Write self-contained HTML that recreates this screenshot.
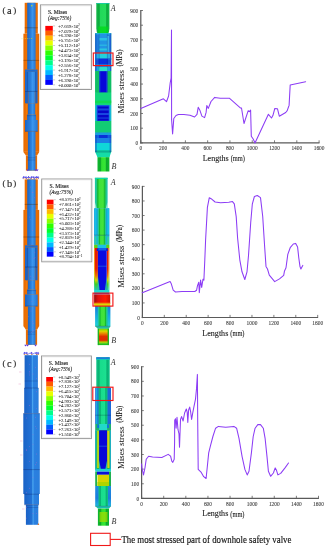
<!DOCTYPE html><html><head><meta charset="utf-8"><style>html,body{margin:0;padding:0;background:#fff;}svg{display:block;}text{font-family:'Liberation Serif', 'Times New Roman', serif;}</style></head><body>
<svg width="328" height="550" viewBox="0 0 328 550">
<rect width="328" height="550" fill="#fff"/>
<defs>
<linearGradient id="gblue" x1="0" x2="1" y1="0" y2="0">
 <stop offset="0" stop-color="#1C64C4"/><stop offset="0.45" stop-color="#2A80DE"/><stop offset="0.6" stop-color="#3C96EE"/><stop offset="1" stop-color="#2374D2"/>
</linearGradient>
<linearGradient id="gorange" x1="0" x2="1" y1="0" y2="0">
 <stop offset="0" stop-color="#E86A00"/><stop offset="0.5" stop-color="#F27A08"/><stop offset="1" stop-color="#E46800"/>
</linearGradient>
<linearGradient id="gcblue" x1="0" x2="1" y1="0" y2="0">
 <stop offset="0" stop-color="#1A62C6"/><stop offset="0.5" stop-color="#2272D6"/><stop offset="0.58" stop-color="#4AA6F0"/><stop offset="0.66" stop-color="#2A80E0"/><stop offset="1" stop-color="#2A7EDC"/>
</linearGradient>
<linearGradient id="ggreen" x1="0" x2="1" y1="0" y2="0">
 <stop offset="0" stop-color="#16B84A"/><stop offset="0.22" stop-color="#0AA83C"/><stop offset="0.3" stop-color="#22D85A"/><stop offset="0.7" stop-color="#26DC5C"/><stop offset="0.8" stop-color="#0AA83C"/><stop offset="1" stop-color="#18BE4E"/>
</linearGradient>
<linearGradient id="ggreen2" x1="0" x2="1" y1="0" y2="0">
 <stop offset="0" stop-color="#10B830"/><stop offset="0.25" stop-color="#0CAA2A"/><stop offset="0.35" stop-color="#30E030"/><stop offset="0.65" stop-color="#36E636"/><stop offset="0.75" stop-color="#0CAA2A"/><stop offset="1" stop-color="#10B830"/>
</linearGradient>
<linearGradient id="gspring" x1="0" x2="1" y1="0" y2="0">
 <stop offset="0" stop-color="#10C488"/><stop offset="0.2" stop-color="#08B070"/><stop offset="0.3" stop-color="#18DC8C"/><stop offset="0.7" stop-color="#1CE090"/><stop offset="0.8" stop-color="#08B070"/><stop offset="1" stop-color="#10C488"/>
</linearGradient>
<linearGradient id="gred" x1="0" x2="1" y1="0" y2="0">
 <stop offset="0" stop-color="#9A0A0A"/><stop offset="0.25" stop-color="#E01010"/><stop offset="0.7" stop-color="#FF1A00"/><stop offset="1" stop-color="#D01000"/>
</linearGradient>
</defs>
<rect x="24.70" y="2.80" width="13.10" height="30.90" fill="url(#gorange)" />
<rect x="23.40" y="33.70" width="15.80" height="118.20" fill="url(#gorange)" />
<polygon points="23.4,151.90 39.2,151.90 37.1,155.50 25.9,155.50" fill="url(#gorange)"/>
<rect x="25.90" y="155.50" width="11.20" height="15.10" fill="url(#gorange)" />
<rect x="27.20" y="2.80" width="8.40" height="66.70" fill="url(#gblue)" />
<rect x="25.00" y="69.50" width="12.60" height="2.40" fill="#1E6CD0" />
<rect x="25.10" y="71.90" width="12.30" height="31.40" fill="url(#gblue)" />
<rect x="25.10" y="71.90" width="2.40" height="19.50" fill="#1F68CA" />
<rect x="35.50" y="71.90" width="1.90" height="19.50" fill="#1F68CA" />
<line x1="27.50" y1="71.90" x2="27.50" y2="91.40" stroke="rgba(0,20,80,0.35)" stroke-width="0.5"/>
<line x1="35.50" y1="71.90" x2="35.50" y2="91.40" stroke="rgba(0,20,80,0.35)" stroke-width="0.5"/>
<rect x="25.20" y="91.40" width="3.10" height="11.90" fill="#1F62C0" />
<rect x="35.10" y="91.40" width="2.20" height="11.90" fill="#1F62C0" />
<line x1="28.30" y1="91.40" x2="28.30" y2="103.30" stroke="rgba(200,110,40,0.7)" stroke-width="0.5"/>
<line x1="35.10" y1="91.40" x2="35.10" y2="103.30" stroke="rgba(200,110,40,0.7)" stroke-width="0.5"/>
<polygon points="25.1,103.30 28.0,104.80 28.0,114.50 25.1,114.50" fill="url(#gorange)"/>
<polygon points="37.4,103.30 35.1,104.80 35.1,114.50 37.4,114.50" fill="url(#gorange)"/>
<rect x="27.90" y="103.30" width="7.30" height="11.20" fill="url(#gblue)" />
<rect x="27.10" y="114.50" width="8.80" height="5.50" fill="url(#gblue)" />
<line x1="27.10" y1="115.70" x2="35.90" y2="115.70" stroke="rgba(0,0,60,0.35)" stroke-width="0.5"/>
<rect x="25.00" y="120.00" width="12.70" height="11.60" fill="url(#gblue)" />
<line x1="25.00" y1="131.30" x2="37.70" y2="131.30" stroke="rgba(0,0,60,0.35)" stroke-width="0.6"/>
<rect x="27.90" y="131.60" width="7.60" height="39.00" fill="url(#gblue)" />
<line x1="24.70" y1="27.80" x2="37.80" y2="27.80" stroke="rgba(60,30,0,0.55)" stroke-width="0.6"/>
<line x1="23.40" y1="60.40" x2="39.20" y2="60.40" stroke="rgba(60,30,0,0.5)" stroke-width="0.6"/>
<line x1="25.10" y1="91.40" x2="37.40" y2="91.40" stroke="rgba(0,0,60,0.45)" stroke-width="0.6"/>
<line x1="27.40" y1="157.80" x2="35.30" y2="157.80" stroke="rgba(0,0,60,0.3)" stroke-width="0.5"/>
<line x1="27.40" y1="160.00" x2="35.30" y2="160.00" stroke="rgba(0,0,60,0.3)" stroke-width="0.5"/>
<rect x="24.70" y="179.40" width="13.10" height="30.50" fill="url(#gorange)" />
<rect x="23.40" y="209.90" width="15.80" height="116.20" fill="url(#gorange)" />
<polygon points="23.4,326.10 39.2,326.10 37.1,329.70 25.9,329.70" fill="url(#gorange)"/>
<rect x="25.90" y="329.70" width="11.20" height="15.10" fill="url(#gorange)" />
<rect x="27.20" y="179.40" width="8.40" height="65.90" fill="url(#gblue)" />
<rect x="25.00" y="245.30" width="12.60" height="2.40" fill="#1E6CD0" />
<rect x="25.10" y="247.70" width="12.30" height="32.50" fill="url(#gblue)" />
<rect x="25.10" y="247.70" width="2.40" height="19.30" fill="#1F68CA" />
<rect x="35.50" y="247.70" width="1.90" height="19.30" fill="#1F68CA" />
<line x1="27.50" y1="247.70" x2="27.50" y2="267.00" stroke="rgba(0,20,80,0.35)" stroke-width="0.5"/>
<line x1="35.50" y1="247.70" x2="35.50" y2="267.00" stroke="rgba(0,20,80,0.35)" stroke-width="0.5"/>
<rect x="25.20" y="267.00" width="3.10" height="13.20" fill="#1F62C0" />
<rect x="35.10" y="267.00" width="2.20" height="13.20" fill="#1F62C0" />
<line x1="28.30" y1="267.00" x2="28.30" y2="280.20" stroke="rgba(200,110,40,0.7)" stroke-width="0.5"/>
<line x1="35.10" y1="267.00" x2="35.10" y2="280.20" stroke="rgba(200,110,40,0.7)" stroke-width="0.5"/>
<polygon points="25.1,280.20 28.0,281.70 28.0,289.40 25.1,289.40" fill="url(#gorange)"/>
<polygon points="37.4,280.20 35.1,281.70 35.1,289.40 37.4,289.40" fill="url(#gorange)"/>
<rect x="27.90" y="280.20" width="7.30" height="9.20" fill="url(#gblue)" />
<rect x="27.10" y="289.40" width="8.80" height="5.10" fill="url(#gblue)" />
<line x1="27.10" y1="290.60" x2="35.90" y2="290.60" stroke="rgba(0,0,60,0.35)" stroke-width="0.5"/>
<rect x="25.00" y="294.50" width="12.70" height="11.90" fill="url(#gblue)" />
<line x1="25.00" y1="306.10" x2="37.70" y2="306.10" stroke="rgba(0,0,60,0.35)" stroke-width="0.6"/>
<rect x="27.90" y="306.40" width="7.60" height="38.40" fill="url(#gblue)" />
<line x1="24.70" y1="204.40" x2="37.80" y2="204.40" stroke="rgba(60,30,0,0.55)" stroke-width="0.6"/>
<line x1="23.40" y1="237.00" x2="39.20" y2="237.00" stroke="rgba(60,30,0,0.5)" stroke-width="0.6"/>
<line x1="25.10" y1="267.00" x2="37.40" y2="267.00" stroke="rgba(0,0,60,0.45)" stroke-width="0.6"/>
<line x1="27.40" y1="332.00" x2="35.30" y2="332.00" stroke="rgba(0,0,60,0.3)" stroke-width="0.5"/>
<line x1="27.40" y1="334.20" x2="35.30" y2="334.20" stroke="rgba(0,0,60,0.3)" stroke-width="0.5"/>
<polygon points="22.30,177.80 23.60,176.00 24.90,177.80" fill="#4A3CE8"/>
<circle cx="23.80" cy="178.60" r="0.55" fill="#F08020"/>
<polygon points="24.70,177.80 26.00,176.00 27.30,177.80" fill="#4A3CE8"/>
<circle cx="26.20" cy="178.60" r="0.55" fill="#F08020"/>
<polygon points="27.30,177.80 28.60,176.00 29.90,177.80" fill="#4A3CE8"/>
<circle cx="28.80" cy="178.60" r="0.55" fill="#F08020"/>
<polygon points="30.10,177.80 31.40,176.00 32.70,177.80" fill="#4A3CE8"/>
<circle cx="31.60" cy="178.60" r="0.55" fill="#F08020"/>
<polygon points="32.50,177.80 33.80,176.00 35.10,177.80" fill="#4A3CE8"/>
<circle cx="34.00" cy="178.60" r="0.55" fill="#F08020"/>
<polygon points="34.90,177.80 36.20,176.00 37.50,177.80" fill="#4A3CE8"/>
<circle cx="36.40" cy="178.60" r="0.55" fill="#F08020"/>
<polygon points="36.70,177.80 38.00,176.00 39.30,177.80" fill="#4A3CE8"/>
<circle cx="38.20" cy="178.60" r="0.55" fill="#F08020"/>
<polyline points="22.6,178.4 24.5,177.0 26.5,178.6 28.5,176.8 30.5,178.5 32.5,176.9 34.5,178.6 36.5,177.0 38.6,178.3" fill="none" stroke="#3C3CE0" stroke-width="0.7"/>
<polygon points="26.40,169.60 27.60,171.20 29.00,169.60" fill="#5A34E0"/>
<polygon points="34.60,169.60 35.80,171.20 37.20,169.60" fill="#5A34E0"/>
<polygon points="36.00,169.60 37.20,171.20 38.60,169.60" fill="#5A34E0"/>
<polygon points="23.20,353.60 24.50,351.80 25.80,353.60" fill="#4A3CE8"/>
<circle cx="24.70" cy="354.40" r="0.55" fill="#F08020"/>
<polygon points="25.50,353.60 26.80,351.80 28.10,353.60" fill="#4A3CE8"/>
<circle cx="27.00" cy="354.40" r="0.55" fill="#F08020"/>
<polygon points="30.30,353.60 31.60,351.80 32.90,353.60" fill="#4A3CE8"/>
<circle cx="31.80" cy="354.40" r="0.55" fill="#F08020"/>
<polygon points="34.90,353.60 36.20,351.80 37.50,353.60" fill="#4A3CE8"/>
<circle cx="36.40" cy="354.40" r="0.55" fill="#F08020"/>
<polygon points="36.70,353.60 38.00,351.80 39.30,353.60" fill="#4A3CE8"/>
<circle cx="38.20" cy="354.40" r="0.55" fill="#F08020"/>
<polyline points="23.6,354.2 25.6,352.8 27.6,354.4 30.2,353.0 32.6,354.2 35.0,352.8 37.2,354.3 39.0,353.4" fill="none" stroke="#3C3CE0" stroke-width="0.6"/>
<polygon points="24.30,344.80 25.50,346.40 26.90,344.80" fill="#5A34E0"/>
<polygon points="26.30,344.80 27.50,346.40 28.90,344.80" fill="#5A34E0"/>
<polygon points="34.30,344.80 35.50,346.40 36.90,344.80" fill="#5A34E0"/>
<circle cx="30.05" cy="269.62" r="0.45" fill="#B060C8" opacity="0.8"/>
<circle cx="30.90" cy="279.23" r="0.45" fill="#B060C8" opacity="0.8"/>
<circle cx="32.57" cy="192.55" r="0.45" fill="#B060C8" opacity="0.8"/>
<circle cx="28.59" cy="316.83" r="0.45" fill="#B060C8" opacity="0.8"/>
<circle cx="30.19" cy="219.73" r="0.45" fill="#B060C8" opacity="0.8"/>
<circle cx="34.97" cy="257.71" r="0.45" fill="#B060C8" opacity="0.8"/>
<circle cx="33.94" cy="258.69" r="0.45" fill="#B060C8" opacity="0.8"/>
<circle cx="32.65" cy="206.25" r="0.45" fill="#B060C8" opacity="0.8"/>
<circle cx="32.63" cy="321.76" r="0.45" fill="#B060C8" opacity="0.8"/>
<circle cx="31.90" cy="301.34" r="0.45" fill="#B060C8" opacity="0.8"/>
<circle cx="32.86" cy="192.31" r="0.45" fill="#B060C8" opacity="0.8"/>
<circle cx="33.43" cy="277.17" r="0.45" fill="#B060C8" opacity="0.8"/>
<circle cx="30.46" cy="186.99" r="0.45" fill="#B060C8" opacity="0.8"/>
<circle cx="34.13" cy="258.11" r="0.45" fill="#B060C8" opacity="0.8"/>
<circle cx="33.17" cy="323.49" r="0.45" fill="#B060C8" opacity="0.8"/>
<circle cx="33.14" cy="330.30" r="0.45" fill="#B060C8" opacity="0.8"/>
<circle cx="31.07" cy="310.95" r="0.45" fill="#B060C8" opacity="0.8"/>
<circle cx="31.39" cy="332.63" r="0.45" fill="#B060C8" opacity="0.8"/>
<circle cx="34.21" cy="197.69" r="0.45" fill="#B060C8" opacity="0.8"/>
<circle cx="29.38" cy="216.93" r="0.45" fill="#B060C8" opacity="0.8"/>
<circle cx="34.78" cy="252.22" r="0.45" fill="#B060C8" opacity="0.8"/>
<circle cx="32.57" cy="230.47" r="0.45" fill="#B060C8" opacity="0.8"/>
<circle cx="31.80" cy="244.12" r="0.45" fill="#B060C8" opacity="0.8"/>
<circle cx="30.78" cy="276.20" r="0.45" fill="#B060C8" opacity="0.8"/>
<circle cx="32.30" cy="327.58" r="0.45" fill="#B060C8" opacity="0.8"/>
<circle cx="32.93" cy="331.56" r="0.45" fill="#B060C8" opacity="0.8"/>
<rect x="24.60" y="355.20" width="13.30" height="32.80" fill="url(#gcblue)" />
<rect x="24.20" y="388.00" width="14.40" height="25.40" fill="url(#gcblue)" />
<rect x="23.30" y="413.40" width="16.50" height="80.60" fill="url(#gcblue)" />
<rect x="24.30" y="494.00" width="14.70" height="10.60" fill="url(#gcblue)" />
<rect x="25.90" y="504.60" width="12.40" height="20.20" fill="url(#gcblue)" />
<line x1="24.60" y1="381.00" x2="37.90" y2="381.00" stroke="rgba(0,0,60,0.3)" stroke-width="0.5"/>
<line x1="24.20" y1="388.00" x2="38.60" y2="388.00" stroke="rgba(0,0,60,0.4)" stroke-width="0.6"/>
<line x1="23.30" y1="413.60" x2="39.80" y2="413.60" stroke="rgba(0,0,60,0.45)" stroke-width="0.6"/>
<line x1="23.30" y1="469.60" x2="39.80" y2="469.60" stroke="rgba(0,0,60,0.4)" stroke-width="0.6"/>
<line x1="24.30" y1="494.20" x2="39.00" y2="494.20" stroke="rgba(0,0,60,0.4)" stroke-width="0.6"/>
<line x1="24.30" y1="504.80" x2="39.00" y2="504.80" stroke="rgba(0,0,60,0.45)" stroke-width="0.7"/>
<line x1="25.90" y1="507.50" x2="38.30" y2="507.50" stroke="rgba(0,0,60,0.3)" stroke-width="0.5"/>
<circle cx="33.00" cy="513.45" r="0.45" fill="#C060C8" opacity="0.8"/>
<circle cx="35.50" cy="464.75" r="0.45" fill="#C060C8" opacity="0.8"/>
<circle cx="26.50" cy="492.69" r="0.45" fill="#C060C8" opacity="0.8"/>
<circle cx="26.50" cy="417.97" r="0.45" fill="#C060C8" opacity="0.8"/>
<circle cx="26.50" cy="507.19" r="0.45" fill="#C060C8" opacity="0.8"/>
<circle cx="29.50" cy="364.15" r="0.45" fill="#C060C8" opacity="0.8"/>
<circle cx="35.50" cy="426.58" r="0.45" fill="#C060C8" opacity="0.8"/>
<circle cx="29.50" cy="372.88" r="0.45" fill="#C060C8" opacity="0.8"/>
<circle cx="35.50" cy="367.69" r="0.45" fill="#C060C8" opacity="0.8"/>
<circle cx="36.50" cy="378.30" r="0.45" fill="#C060C8" opacity="0.8"/>
<circle cx="29.50" cy="461.42" r="0.45" fill="#C060C8" opacity="0.8"/>
<circle cx="36.50" cy="513.42" r="0.45" fill="#C060C8" opacity="0.8"/>
<circle cx="36.50" cy="454.03" r="0.45" fill="#C060C8" opacity="0.8"/>
<circle cx="26.50" cy="518.11" r="0.45" fill="#C060C8" opacity="0.8"/>
<circle cx="26.50" cy="449.29" r="0.45" fill="#C060C8" opacity="0.8"/>
<circle cx="29.50" cy="405.50" r="0.45" fill="#C060C8" opacity="0.8"/>
<circle cx="29.50" cy="446.67" r="0.45" fill="#C060C8" opacity="0.8"/>
<circle cx="36.50" cy="408.59" r="0.45" fill="#C060C8" opacity="0.8"/>
<circle cx="29.50" cy="374.90" r="0.45" fill="#C060C8" opacity="0.8"/>
<circle cx="36.50" cy="462.78" r="0.45" fill="#C060C8" opacity="0.8"/>
<circle cx="33.00" cy="373.98" r="0.45" fill="#C060C8" opacity="0.8"/>
<circle cx="26.50" cy="450.56" r="0.45" fill="#C060C8" opacity="0.8"/>
<circle cx="36.50" cy="391.78" r="0.45" fill="#C060C8" opacity="0.8"/>
<circle cx="36.50" cy="428.13" r="0.45" fill="#C060C8" opacity="0.8"/>
<circle cx="33.00" cy="434.36" r="0.45" fill="#C060C8" opacity="0.8"/>
<circle cx="35.50" cy="417.30" r="0.45" fill="#C060C8" opacity="0.8"/>
<circle cx="29.50" cy="488.28" r="0.45" fill="#C060C8" opacity="0.8"/>
<circle cx="29.50" cy="371.42" r="0.45" fill="#C060C8" opacity="0.8"/>
<circle cx="33.00" cy="444.13" r="0.45" fill="#C060C8" opacity="0.8"/>
<circle cx="33.00" cy="477.63" r="0.45" fill="#C060C8" opacity="0.8"/>
<line x1="19" y1="372" x2="21.5" y2="372" stroke="#E8A0C8" stroke-width="0.5"/>
<line x1="18.5" y1="384" x2="21.0" y2="384" stroke="#E8A0C8" stroke-width="0.5"/>
<line x1="20" y1="441" x2="22.5" y2="441" stroke="#E8A0C8" stroke-width="0.5"/>
<line x1="20" y1="455" x2="22.5" y2="455" stroke="#E8A0C8" stroke-width="0.5"/>
<line x1="22" y1="509" x2="24.5" y2="509" stroke="#E8A0C8" stroke-width="0.5"/>
<circle cx="38.4" cy="524.3" r="0.8" fill="#E07020"/>
<path d="M96.3,3 L109.4,3 L109.4,28.5 Q109.2,32 108.2,33.5 L97.5,33.5 Q96.5,32 96.3,28.5 Z" fill="url(#ggreen)"/>
<rect x="96.30" y="3.00" width="13.10" height="0.80" fill="#18C8B0" />
<path d="M98.2,26.5 L108.0,26.5 L108.0,33.4 L98.2,33.4 Z" fill="#00DA1A" opacity="0.8"/>
<rect x="95.20" y="33.30" width="16.00" height="118.70" fill="#1FC07C" />
<rect x="95.20" y="33.30" width="16.00" height="37.80" fill="#1F7EDC" />
<rect x="95.20" y="33.30" width="16.00" height="1.00" fill="#22C8DC" />
<rect x="99.20" y="34.30" width="8.10" height="18.70" fill="#2294E4" />
<rect x="99.20" y="38.00" width="8.10" height="2.50" fill="#2AC0E4" />
<rect x="99.20" y="44.50" width="8.10" height="1.50" fill="#28B4E4" />
<rect x="99.20" y="48.50" width="8.10" height="2.00" fill="#2AC8E0" />
<rect x="107.30" y="36.00" width="1.70" height="16.00" fill="#3AAEE8" />
<rect x="99.20" y="53.00" width="8.10" height="5.00" fill="#22D2DC" />
<rect x="96.50" y="53.00" width="2.70" height="5.00" fill="#2AB0E0" />
<rect x="107.30" y="53.00" width="2.70" height="5.00" fill="#2AB0E0" />
<rect x="95.20" y="58.00" width="16.00" height="2.00" fill="#1A78D8" />
<rect x="95.60" y="59.50" width="15.20" height="5.00" fill="#1450D8" />
<rect x="98.50" y="59.00" width="9.50" height="5.50" fill="#0A30DC" />
<rect x="95.20" y="64.50" width="16.00" height="2.50" fill="#1C84DC" />
<rect x="99.20" y="67.00" width="8.10" height="4.10" fill="#28DAD0" />
<rect x="96.50" y="67.00" width="2.70" height="4.10" fill="#1AA8E0" />
<rect x="107.30" y="67.00" width="2.70" height="4.10" fill="#1AA8E0" />
<rect x="95.20" y="33.30" width="1.20" height="37.80" fill="rgba(20,60,190,0.45)" />
<rect x="110.00" y="33.30" width="1.20" height="37.80" fill="rgba(20,60,190,0.45)" />
<line x1="99.20" y1="33.30" x2="99.20" y2="152.00" stroke="rgba(0,40,90,0.35)" stroke-width="0.5"/>
<line x1="107.30" y1="33.30" x2="107.30" y2="152.00" stroke="rgba(0,40,90,0.35)" stroke-width="0.5"/>
<rect x="95.20" y="71.10" width="16.00" height="21.50" fill="#10BE64" />
<rect x="99.40" y="71.10" width="7.90" height="21.50" fill="#0808D8" />
<rect x="99.40" y="71.10" width="0.90" height="21.50" fill="#1A50D8" />
<rect x="106.40" y="71.10" width="0.90" height="21.50" fill="#1A50D8" />
<rect x="99.40" y="67.50" width="7.90" height="3.60" fill="#2EE0C8" />
<rect x="95.20" y="92.60" width="16.00" height="12.60" fill="#12D67C" />
<rect x="95.20" y="100.60" width="16.00" height="2.60" fill="#10DA50" />
<rect x="95.20" y="105.20" width="16.00" height="15.80" fill="#14B8D8" />
<rect x="96.70" y="105.20" width="12.70" height="15.80" fill="#1846E0" />
<rect x="97.80" y="106.50" width="10.80" height="2.00" fill="#0606C8" />
<rect x="97.80" y="110.50" width="10.80" height="2.50" fill="#0606C8" />
<rect x="97.80" y="115.00" width="10.80" height="2.50" fill="#0606C8" />
<rect x="97.80" y="118.60" width="10.80" height="2.00" fill="#0606C8" />
<rect x="95.20" y="121.00" width="16.00" height="11.50" fill="#12CC74" />
<rect x="95.20" y="132.50" width="16.00" height="2.50" fill="#1A9AE0" />
<rect x="95.20" y="135.00" width="16.00" height="3.00" fill="#1060E0" />
<rect x="99.00" y="135.00" width="8.60" height="3.00" fill="#0A30D8" />
<rect x="95.20" y="138.00" width="16.00" height="5.00" fill="#1A80E4" />
<rect x="95.20" y="143.00" width="16.00" height="7.00" fill="#10D6D8" />
<rect x="95.20" y="150.00" width="16.00" height="2.00" fill="#0CC8A0" />
<rect x="95.20" y="135.00" width="1.60" height="17.00" fill="rgba(20,60,200,0.5)" />
<rect x="109.60" y="135.00" width="1.60" height="17.00" fill="rgba(20,60,200,0.5)" />
<polygon points="95.2,152 111.2,152 109.4,157.2 97.5,157.2" fill="#12D8B0"/>
<rect x="97.50" y="152.00" width="11.90" height="5.20" fill="#14DCA8" />
<rect x="97.50" y="157.20" width="11.90" height="14.30" fill="url(#ggreen2)" />
<line x1="95.20" y1="152.00" x2="111.20" y2="152.00" stroke="rgba(0,40,60,0.5)" stroke-width="0.6"/>
<rect x="93.3" y="53.0" width="19.7" height="12.6" fill="none" stroke="#F41616" stroke-width="1.15"/>
<defs>
<linearGradient id="gbtop" x1="0" x2="1" y1="0" y2="0">
 <stop offset="0" stop-color="#18C8A8"/><stop offset="0.12" stop-color="#22C890"/><stop offset="0.22" stop-color="#14B830"/><stop offset="0.35" stop-color="#3EE23A"/><stop offset="0.65" stop-color="#44E43C"/><stop offset="0.78" stop-color="#14B830"/><stop offset="0.88" stop-color="#22C890"/><stop offset="1" stop-color="#18C0B0"/>
</linearGradient>
<linearGradient id="gbside" x1="0" x2="0" y1="0" y2="1">
 <stop offset="0" stop-color="#E81800"/><stop offset="0.5" stop-color="#E82000"/><stop offset="0.66" stop-color="#F07000"/><stop offset="0.76" stop-color="#D8D000"/><stop offset="0.86" stop-color="#40D020"/><stop offset="1" stop-color="#20C8B0"/>
</linearGradient>
<linearGradient id="gbside2" x1="0" x2="0" y1="0" y2="1">
 <stop offset="0" stop-color="#F07800"/><stop offset="0.5" stop-color="#F09000"/><stop offset="0.66" stop-color="#D8D000"/><stop offset="0.8" stop-color="#40D020"/><stop offset="1" stop-color="#20C8C0"/>
</linearGradient>
<linearGradient id="gbnar" x1="0" x2="0" y1="0" y2="1">
 <stop offset="0" stop-color="#70D800"/><stop offset="0.15" stop-color="#D8D800"/><stop offset="0.3" stop-color="#E88A00"/><stop offset="0.5" stop-color="#E03000"/><stop offset="0.75" stop-color="#E02800"/><stop offset="0.88" stop-color="#B0D800"/><stop offset="1" stop-color="#30C830"/>
</linearGradient>
<linearGradient id="gbmid" x1="0" x2="0" y1="0" y2="1">
 <stop offset="0" stop-color="#1878DC"/><stop offset="0.5" stop-color="#18A8E0"/><stop offset="1" stop-color="#20D0D8"/>
</linearGradient>
</defs>
<rect x="94.90" y="177.80" width="12.70" height="30.50" fill="url(#gbtop)" />
<rect x="94.90" y="177.80" width="12.70" height="1.20" fill="#10D8A8" />
<path d="M94.9,202 Q96.2,206 96.6,208.3 L94.9,208.3 Z M107.6,202 Q106.3,206 105.9,208.3 L107.6,208.3 Z" fill="#fff" opacity="0.5"/>
<rect x="94.10" y="208.30" width="15.30" height="26.90" fill="#1898E0" />
<rect x="94.60" y="208.30" width="1.90" height="26.90" fill="#18C0E4" />
<rect x="107.20" y="208.30" width="1.80" height="26.90" fill="#18C0E4" />
<rect x="97.50" y="208.30" width="8.80" height="26.90" fill="url(#gbtop)" />
<rect x="94.10" y="235.20" width="15.30" height="9.60" fill="#18B0E0" />
<rect x="94.60" y="236.50" width="1.70" height="8.30" fill="#30D0A0" />
<rect x="107.20" y="236.50" width="1.80" height="8.30" fill="#30D0A0" />
<rect x="97.50" y="235.20" width="8.80" height="9.60" fill="url(#gbtop)" />
<line x1="94.10" y1="235.20" x2="109.40" y2="235.20" stroke="rgba(0,40,60,0.5)" stroke-width="0.6"/>
<rect x="94.10" y="244.80" width="15.30" height="3.20" fill="#60D010" />
<rect x="97.50" y="244.80" width="8.80" height="3.20" fill="#18C0E8" />
<rect x="94.10" y="248.00" width="0.90" height="42.00" fill="url(#gbside2)" />
<rect x="108.50" y="248.00" width="0.90" height="42.00" fill="url(#gbside2)" />
<rect x="95.00" y="248.00" width="2.90" height="42.00" fill="url(#gbside)" />
<rect x="106.70" y="248.00" width="1.80" height="42.00" fill="url(#gbside)" />
<rect x="97.90" y="248.00" width="8.80" height="42.00" fill="#0A0AE0" />
<rect x="97.90" y="248.00" width="8.80" height="2.50" fill="#1060E8" />
<rect x="96.80" y="248.50" width="1.60" height="2.50" fill="#1020D0" />
<rect x="106.20" y="248.50" width="1.60" height="2.50" fill="#1020D0" />
<polygon points="97.9,276 99.6,290 97.9,290" fill="#20C8A0"/>
<polygon points="106.7,276 105.0,290 106.7,290" fill="#20C8A0"/>
<line x1="97.90" y1="266.20" x2="106.70" y2="266.20" stroke="rgba(60,200,220,0.6)" stroke-width="0.6"/>
<rect x="94.10" y="290.00" width="15.30" height="3.00" fill="#20D8D0" />
<rect x="94.10" y="293.00" width="15.30" height="1.40" fill="#2040D0" />
<rect x="94.10" y="294.40" width="16.10" height="9.20" fill="url(#gred)" />
<rect x="94.10" y="302.60" width="16.10" height="1.20" fill="#F07000" />
<rect x="94.10" y="303.60" width="16.10" height="2.40" fill="#D8D800" />
<rect x="95.10" y="306.00" width="15.30" height="20.30" fill="url(#gbmid)" />
<rect x="97.80" y="306.00" width="10.00" height="20.30" fill="url(#gbtop)" />
<polygon points="95.1,326.3 110.4,326.3 108.8,328.7 97.8,328.7" fill="#20C0A0"/>
<line x1="95.10" y1="326.30" x2="110.40" y2="326.30" stroke="rgba(0,40,60,0.5)" stroke-width="0.6"/>
<rect x="97.80" y="328.70" width="11.00" height="16.40" fill="#20C020" />
<rect x="98.80" y="328.90" width="9.00" height="15.10" fill="url(#gbnar)" />
<rect x="97.80" y="328.70" width="1.00" height="16.40" fill="#18B020" />
<rect x="107.80" y="328.70" width="1.00" height="16.40" fill="#18B020" />
<rect x="93.0" y="293.1" width="19.9" height="13.0" fill="none" stroke="#F41616" stroke-width="1.15"/>
<defs>
<linearGradient id="gcside" x1="0" x2="0" y1="0" y2="1">
 <stop offset="0" stop-color="#1C8CE0"/><stop offset="0.6" stop-color="#1C7CDC"/><stop offset="1" stop-color="#20B8E0"/>
</linearGradient>
</defs>
<rect x="96.30" y="357.20" width="13.40" height="30.60" fill="url(#gspring)" />
<rect x="96.30" y="357.20" width="13.40" height="1.80" fill="#1A80D8" />
<rect x="96.30" y="359.00" width="13.40" height="0.80" fill="#10C8C0" />
<rect x="95.20" y="387.80" width="15.80" height="36.20" fill="#1C68D8" />
<rect x="96.00" y="387.80" width="1.40" height="36.20" fill="#18B0DC" />
<rect x="98.50" y="387.80" width="9.00" height="36.20" fill="url(#gspring)" />
<line x1="95.20" y1="415.20" x2="111.00" y2="415.20" stroke="rgba(0,40,60,0.45)" stroke-width="0.6"/>
<rect x="95.20" y="424.00" width="15.80" height="6.30" fill="#20B070" />
<rect x="99.10" y="424.00" width="8.00" height="6.30" fill="#22D8C8" />
<rect x="97.20" y="424.50" width="1.90" height="3.50" fill="#1070E0" />
<rect x="107.10" y="424.50" width="1.90" height="3.50" fill="#1070E0" />
<rect x="95.20" y="430.30" width="15.80" height="39.70" fill="#18C030" />
<rect x="95.20" y="430.30" width="1.40" height="39.70" fill="#20B0C0" />
<rect x="109.60" y="430.30" width="1.40" height="39.70" fill="#20B0C0" />
<rect x="97.00" y="431.00" width="2.10" height="37.00" fill="#A8D418" />
<rect x="107.10" y="431.00" width="2.30" height="37.00" fill="#D4D410" />
<rect x="99.10" y="430.30" width="8.00" height="39.70" fill="#0808D8" />
<polygon points="99.1,460 100.8,469 99.1,469" fill="#20C8A0"/>
<polygon points="107.1,460 105.4,469 107.1,469" fill="#20C8A0"/>
<line x1="99.10" y1="446.20" x2="107.10" y2="446.20" stroke="rgba(60,200,220,0.6)" stroke-width="0.6"/>
<rect x="95.20" y="468.80" width="15.80" height="2.90" fill="#20D0D0" />
<rect x="95.20" y="471.70" width="1.80" height="14.30" fill="#20B050" />
<rect x="109.00" y="471.70" width="2.00" height="14.30" fill="#20B050" />
<rect x="97.00" y="471.70" width="12.00" height="3.10" fill="#0A10D8" />
<rect x="97.50" y="474.80" width="11.50" height="11.20" fill="#D8D400" />
<rect x="97.50" y="482.00" width="11.50" height="4.00" fill="#B0D400" />
<rect x="95.20" y="486.00" width="15.80" height="20.30" fill="url(#gcside)" />
<rect x="98.50" y="486.00" width="9.50" height="20.30" fill="url(#gspring)" />
<polygon points="95.2,506.3 111.0,506.3 109.0,508.6 97.9,508.6" fill="#12C0B0"/>
<line x1="95.20" y1="506.30" x2="111.00" y2="506.30" stroke="rgba(0,40,60,0.45)" stroke-width="0.6"/>
<rect x="97.90" y="508.60" width="11.10" height="17.10" fill="url(#ggreen2)" />
<rect x="99.50" y="512.00" width="8.00" height="10.00" fill="#A0DC00" opacity="0.75"/>
<rect x="92.8" y="387.2" width="20.2" height="13.3" fill="none" stroke="#F41616" stroke-width="1.15"/>
<rect x="40.40" y="4.90" width="51.10" height="84.60" fill="#fff" stroke="#979797" stroke-width="0.95"/>
<rect x="41.40" y="5.90" width="49.10" height="82.60" fill="none" stroke="#e6e6e6" stroke-width="0.6"/>
<text x="47.90" y="14.20" font-size="5.6" fill="#1a1a1a" stroke="#1a1a1a" stroke-width="0.12">S. Mises</text>
<text x="47.90" y="20.30" font-size="5.4" font-style="italic" fill="#1a1a1a" stroke="#1a1a1a" stroke-width="0.1">(Avg:75%)</text>
<rect x="45.30" y="25.90" width="7.50" height="4.96" fill="#FF0000" />
<rect x="45.30" y="30.81" width="7.50" height="4.96" fill="#FF5D00" />
<rect x="45.30" y="35.72" width="7.50" height="4.96" fill="#FFB900" />
<rect x="45.30" y="40.62" width="7.50" height="4.96" fill="#E8FF00" />
<rect x="45.30" y="45.53" width="7.50" height="4.96" fill="#8BFF00" />
<rect x="45.30" y="50.44" width="7.50" height="4.96" fill="#2EFF00" />
<rect x="45.30" y="55.35" width="7.50" height="4.96" fill="#00FF2E" />
<rect x="45.30" y="60.26" width="7.50" height="4.96" fill="#00FF8B" />
<rect x="45.30" y="65.17" width="7.50" height="4.96" fill="#00FFE8" />
<rect x="45.30" y="70.07" width="7.50" height="4.96" fill="#00B9FF" />
<rect x="45.30" y="74.98" width="7.50" height="4.96" fill="#005DFF" />
<rect x="45.30" y="79.89" width="7.50" height="4.96" fill="#0000FF" />
<line x1="53.10" y1="25.90" x2="55.10" y2="25.90" stroke="#999" stroke-width="0.5"/>
<text x="58.20" y="27.60" font-size="4.6" fill="#222" stroke="#222" stroke-width="0.04">+7.669&#215;10<tspan dy="-1.6" font-size="3">2</tspan></text>
<line x1="53.10" y1="30.81" x2="55.10" y2="30.81" stroke="#999" stroke-width="0.5"/>
<text x="58.20" y="32.51" font-size="4.6" fill="#222" stroke="#222" stroke-width="0.04">+7.029&#215;10<tspan dy="-1.6" font-size="3">2</tspan></text>
<line x1="53.10" y1="35.72" x2="55.10" y2="35.72" stroke="#999" stroke-width="0.5"/>
<text x="58.20" y="37.42" font-size="4.6" fill="#222" stroke="#222" stroke-width="0.04">+6.390&#215;10<tspan dy="-1.6" font-size="3">2</tspan></text>
<line x1="53.10" y1="40.62" x2="55.10" y2="40.62" stroke="#999" stroke-width="0.5"/>
<text x="58.20" y="42.33" font-size="4.6" fill="#222" stroke="#222" stroke-width="0.04">+5.751&#215;10<tspan dy="-1.6" font-size="3">2</tspan></text>
<line x1="53.10" y1="45.53" x2="55.10" y2="45.53" stroke="#999" stroke-width="0.5"/>
<text x="58.20" y="47.23" font-size="4.6" fill="#222" stroke="#222" stroke-width="0.04">+5.112&#215;10<tspan dy="-1.6" font-size="3">2</tspan></text>
<line x1="53.10" y1="50.44" x2="55.10" y2="50.44" stroke="#999" stroke-width="0.5"/>
<text x="58.20" y="52.14" font-size="4.6" fill="#222" stroke="#222" stroke-width="0.04">+4.473&#215;10<tspan dy="-1.6" font-size="3">2</tspan></text>
<line x1="53.10" y1="55.35" x2="55.10" y2="55.35" stroke="#999" stroke-width="0.5"/>
<text x="58.20" y="57.05" font-size="4.6" fill="#222" stroke="#222" stroke-width="0.04">+3.834&#215;10<tspan dy="-1.6" font-size="3">2</tspan></text>
<line x1="53.10" y1="60.26" x2="55.10" y2="60.26" stroke="#999" stroke-width="0.5"/>
<text x="58.20" y="61.96" font-size="4.6" fill="#222" stroke="#222" stroke-width="0.04">+3.195&#215;10<tspan dy="-1.6" font-size="3">2</tspan></text>
<line x1="53.10" y1="65.17" x2="55.10" y2="65.17" stroke="#999" stroke-width="0.5"/>
<text x="58.20" y="66.87" font-size="4.6" fill="#222" stroke="#222" stroke-width="0.04">+2.556&#215;10<tspan dy="-1.6" font-size="3">2</tspan></text>
<line x1="53.10" y1="70.07" x2="55.10" y2="70.07" stroke="#999" stroke-width="0.5"/>
<text x="58.20" y="71.77" font-size="4.6" fill="#222" stroke="#222" stroke-width="0.04">+1.917&#215;10<tspan dy="-1.6" font-size="3">2</tspan></text>
<line x1="53.10" y1="74.98" x2="55.10" y2="74.98" stroke="#999" stroke-width="0.5"/>
<text x="58.20" y="76.68" font-size="4.6" fill="#222" stroke="#222" stroke-width="0.04">+1.278&#215;10<tspan dy="-1.6" font-size="3">2</tspan></text>
<line x1="53.10" y1="79.89" x2="55.10" y2="79.89" stroke="#999" stroke-width="0.5"/>
<text x="58.20" y="81.59" font-size="4.6" fill="#222" stroke="#222" stroke-width="0.04">+6.390&#215;10<tspan dy="-1.6" font-size="3">1</tspan></text>
<line x1="53.10" y1="84.80" x2="55.10" y2="84.80" stroke="#999" stroke-width="0.5"/>
<text x="58.20" y="86.50" font-size="4.6" fill="#222" stroke="#222" stroke-width="0.04">+0.000&#215;10<tspan dy="-1.6" font-size="3">0</tspan></text>
<rect x="41.70" y="179.00" width="50.10" height="82.80" fill="#fff" stroke="#979797" stroke-width="0.95"/>
<rect x="42.70" y="180.00" width="48.10" height="80.80" fill="none" stroke="#e6e6e6" stroke-width="0.6"/>
<text x="49.40" y="188.30" font-size="5.6" fill="#1a1a1a" stroke="#1a1a1a" stroke-width="0.12">S. Mises</text>
<text x="49.40" y="194.40" font-size="5.4" font-style="italic" fill="#1a1a1a" stroke="#1a1a1a" stroke-width="0.1">(Avg:75%)</text>
<rect x="46.80" y="199.70" width="6.70" height="4.79" fill="#FF0000" />
<rect x="46.80" y="204.44" width="6.70" height="4.79" fill="#FF5D00" />
<rect x="46.80" y="209.18" width="6.70" height="4.79" fill="#FFB900" />
<rect x="46.80" y="213.93" width="6.70" height="4.79" fill="#E8FF00" />
<rect x="46.80" y="218.67" width="6.70" height="4.79" fill="#8BFF00" />
<rect x="46.80" y="223.41" width="6.70" height="4.79" fill="#2EFF00" />
<rect x="46.80" y="228.15" width="6.70" height="4.79" fill="#00FF2E" />
<rect x="46.80" y="232.89" width="6.70" height="4.79" fill="#00FF8B" />
<rect x="46.80" y="237.63" width="6.70" height="4.79" fill="#00FFE8" />
<rect x="46.80" y="242.38" width="6.70" height="4.79" fill="#00B9FF" />
<rect x="46.80" y="247.12" width="6.70" height="4.79" fill="#005DFF" />
<rect x="46.80" y="251.86" width="6.70" height="4.79" fill="#0000FF" />
<line x1="53.80" y1="199.70" x2="55.80" y2="199.70" stroke="#999" stroke-width="0.5"/>
<text x="58.90" y="201.40" font-size="4.6" fill="#222" stroke="#222" stroke-width="0.04">+8.576&#215;10<tspan dy="-1.6" font-size="3">2</tspan></text>
<line x1="53.80" y1="204.44" x2="55.80" y2="204.44" stroke="#999" stroke-width="0.5"/>
<text x="58.90" y="206.14" font-size="4.6" fill="#222" stroke="#222" stroke-width="0.04">+7.861&#215;10<tspan dy="-1.6" font-size="3">2</tspan></text>
<line x1="53.80" y1="209.18" x2="55.80" y2="209.18" stroke="#999" stroke-width="0.5"/>
<text x="58.90" y="210.88" font-size="4.6" fill="#222" stroke="#222" stroke-width="0.04">+7.147&#215;10<tspan dy="-1.6" font-size="3">2</tspan></text>
<line x1="53.80" y1="213.93" x2="55.80" y2="213.93" stroke="#999" stroke-width="0.5"/>
<text x="58.90" y="215.62" font-size="4.6" fill="#222" stroke="#222" stroke-width="0.04">+6.432&#215;10<tspan dy="-1.6" font-size="3">2</tspan></text>
<line x1="53.80" y1="218.67" x2="55.80" y2="218.67" stroke="#999" stroke-width="0.5"/>
<text x="58.90" y="220.37" font-size="4.6" fill="#222" stroke="#222" stroke-width="0.04">+5.717&#215;10<tspan dy="-1.6" font-size="3">2</tspan></text>
<line x1="53.80" y1="223.41" x2="55.80" y2="223.41" stroke="#999" stroke-width="0.5"/>
<text x="58.90" y="225.11" font-size="4.6" fill="#222" stroke="#222" stroke-width="0.04">+5.003&#215;10<tspan dy="-1.6" font-size="3">2</tspan></text>
<line x1="53.80" y1="228.15" x2="55.80" y2="228.15" stroke="#999" stroke-width="0.5"/>
<text x="58.90" y="229.85" font-size="4.6" fill="#222" stroke="#222" stroke-width="0.04">+4.288&#215;10<tspan dy="-1.6" font-size="3">2</tspan></text>
<line x1="53.80" y1="232.89" x2="55.80" y2="232.89" stroke="#999" stroke-width="0.5"/>
<text x="58.90" y="234.59" font-size="4.6" fill="#222" stroke="#222" stroke-width="0.04">+3.573&#215;10<tspan dy="-1.6" font-size="3">2</tspan></text>
<line x1="53.80" y1="237.63" x2="55.80" y2="237.63" stroke="#999" stroke-width="0.5"/>
<text x="58.90" y="239.33" font-size="4.6" fill="#222" stroke="#222" stroke-width="0.04">+2.859&#215;10<tspan dy="-1.6" font-size="3">2</tspan></text>
<line x1="53.80" y1="242.38" x2="55.80" y2="242.38" stroke="#999" stroke-width="0.5"/>
<text x="58.90" y="244.07" font-size="4.6" fill="#222" stroke="#222" stroke-width="0.04">+2.144&#215;10<tspan dy="-1.6" font-size="3">2</tspan></text>
<line x1="53.80" y1="247.12" x2="55.80" y2="247.12" stroke="#999" stroke-width="0.5"/>
<text x="58.90" y="248.82" font-size="4.6" fill="#222" stroke="#222" stroke-width="0.04">+1.429&#215;10<tspan dy="-1.6" font-size="3">2</tspan></text>
<line x1="53.80" y1="251.86" x2="55.80" y2="251.86" stroke="#999" stroke-width="0.5"/>
<text x="58.90" y="253.56" font-size="4.6" fill="#222" stroke="#222" stroke-width="0.04">+7.148&#215;10<tspan dy="-1.6" font-size="3">1</tspan></text>
<line x1="53.80" y1="256.60" x2="55.80" y2="256.60" stroke="#999" stroke-width="0.5"/>
<text x="58.90" y="258.30" font-size="4.6" fill="#222" stroke="#222" stroke-width="0.04">+8.794&#215;10<tspan dy="-1.6" font-size="3">&#8722;1</tspan></text>
<rect x="41.50" y="356.00" width="49.90" height="82.60" fill="#fff" stroke="#979797" stroke-width="0.95"/>
<rect x="42.50" y="357.00" width="47.90" height="80.60" fill="none" stroke="#e6e6e6" stroke-width="0.6"/>
<text x="48.80" y="365.30" font-size="5.6" fill="#1a1a1a" stroke="#1a1a1a" stroke-width="0.12">S. Mises</text>
<text x="48.80" y="371.40" font-size="5.4" font-style="italic" fill="#1a1a1a" stroke="#1a1a1a" stroke-width="0.1">(Avg:75%)</text>
<rect x="46.20" y="377.00" width="6.80" height="4.82" fill="#FF0000" />
<rect x="46.20" y="381.77" width="6.80" height="4.83" fill="#FF5D00" />
<rect x="46.20" y="386.55" width="6.80" height="4.82" fill="#FFB900" />
<rect x="46.20" y="391.32" width="6.80" height="4.83" fill="#E8FF00" />
<rect x="46.20" y="396.10" width="6.80" height="4.82" fill="#8BFF00" />
<rect x="46.20" y="400.88" width="6.80" height="4.82" fill="#2EFF00" />
<rect x="46.20" y="405.65" width="6.80" height="4.83" fill="#00FF2E" />
<rect x="46.20" y="410.43" width="6.80" height="4.82" fill="#00FF8B" />
<rect x="46.20" y="415.20" width="6.80" height="4.83" fill="#00FFE8" />
<rect x="46.20" y="419.98" width="6.80" height="4.82" fill="#00B9FF" />
<rect x="46.20" y="424.75" width="6.80" height="4.83" fill="#005DFF" />
<rect x="46.20" y="429.53" width="6.80" height="4.82" fill="#0000FF" />
<line x1="53.30" y1="377.00" x2="55.30" y2="377.00" stroke="#999" stroke-width="0.5"/>
<text x="58.40" y="378.70" font-size="4.6" fill="#222" stroke="#222" stroke-width="0.04">+8.549&#215;10<tspan dy="-1.6" font-size="3">2</tspan></text>
<line x1="53.30" y1="381.77" x2="55.30" y2="381.77" stroke="#999" stroke-width="0.5"/>
<text x="58.40" y="383.47" font-size="4.6" fill="#222" stroke="#222" stroke-width="0.04">+7.838&#215;10<tspan dy="-1.6" font-size="3">2</tspan></text>
<line x1="53.30" y1="386.55" x2="55.30" y2="386.55" stroke="#999" stroke-width="0.5"/>
<text x="58.40" y="388.25" font-size="4.6" fill="#222" stroke="#222" stroke-width="0.04">+7.127&#215;10<tspan dy="-1.6" font-size="3">2</tspan></text>
<line x1="53.30" y1="391.32" x2="55.30" y2="391.32" stroke="#999" stroke-width="0.5"/>
<text x="58.40" y="393.02" font-size="4.6" fill="#222" stroke="#222" stroke-width="0.04">+6.415&#215;10<tspan dy="-1.6" font-size="3">2</tspan></text>
<line x1="53.30" y1="396.10" x2="55.30" y2="396.10" stroke="#999" stroke-width="0.5"/>
<text x="58.40" y="397.80" font-size="4.6" fill="#222" stroke="#222" stroke-width="0.04">+5.704&#215;10<tspan dy="-1.6" font-size="3">2</tspan></text>
<line x1="53.30" y1="400.88" x2="55.30" y2="400.88" stroke="#999" stroke-width="0.5"/>
<text x="58.40" y="402.57" font-size="4.6" fill="#222" stroke="#222" stroke-width="0.04">+4.993&#215;10<tspan dy="-1.6" font-size="3">2</tspan></text>
<line x1="53.30" y1="405.65" x2="55.30" y2="405.65" stroke="#999" stroke-width="0.5"/>
<text x="58.40" y="407.35" font-size="4.6" fill="#222" stroke="#222" stroke-width="0.04">+4.282&#215;10<tspan dy="-1.6" font-size="3">2</tspan></text>
<line x1="53.30" y1="410.43" x2="55.30" y2="410.43" stroke="#999" stroke-width="0.5"/>
<text x="58.40" y="412.12" font-size="4.6" fill="#222" stroke="#222" stroke-width="0.04">+3.571&#215;10<tspan dy="-1.6" font-size="3">2</tspan></text>
<line x1="53.30" y1="415.20" x2="55.30" y2="415.20" stroke="#999" stroke-width="0.5"/>
<text x="58.40" y="416.90" font-size="4.6" fill="#222" stroke="#222" stroke-width="0.04">+2.860&#215;10<tspan dy="-1.6" font-size="3">2</tspan></text>
<line x1="53.30" y1="419.98" x2="55.30" y2="419.98" stroke="#999" stroke-width="0.5"/>
<text x="58.40" y="421.68" font-size="4.6" fill="#222" stroke="#222" stroke-width="0.04">+2.149&#215;10<tspan dy="-1.6" font-size="3">2</tspan></text>
<line x1="53.30" y1="424.75" x2="55.30" y2="424.75" stroke="#999" stroke-width="0.5"/>
<text x="58.40" y="426.45" font-size="4.6" fill="#222" stroke="#222" stroke-width="0.04">+1.437&#215;10<tspan dy="-1.6" font-size="3">2</tspan></text>
<line x1="53.30" y1="429.53" x2="55.30" y2="429.53" stroke="#999" stroke-width="0.5"/>
<text x="58.40" y="431.23" font-size="4.6" fill="#222" stroke="#222" stroke-width="0.04">+7.263&#215;10<tspan dy="-1.6" font-size="3">1</tspan></text>
<line x1="53.30" y1="434.30" x2="55.30" y2="434.30" stroke="#999" stroke-width="0.5"/>
<text x="58.40" y="436.00" font-size="4.6" fill="#222" stroke="#222" stroke-width="0.04">+1.510&#215;10<tspan dy="-1.6" font-size="3">0</tspan></text>
<text x="2.40" y="13.20" font-size="8.9" fill="#222" stroke="#222" stroke-width="0.12">(</text>
<text x="6.90" y="14.30" font-size="10.3" fill="#222" stroke="#222" stroke-width="0.12">a</text>
<text x="13.20" y="13.20" font-size="8.9" fill="#222" stroke="#222" stroke-width="0.12">)</text>
<text x="2.40" y="185.60" font-size="8.9" fill="#222" stroke="#222" stroke-width="0.12">(</text>
<text x="6.90" y="186.70" font-size="10.3" fill="#222" stroke="#222" stroke-width="0.12">b</text>
<text x="13.20" y="185.60" font-size="8.9" fill="#222" stroke="#222" stroke-width="0.12">)</text>
<text x="2.40" y="366.00" font-size="8.9" fill="#222" stroke="#222" stroke-width="0.12">(</text>
<text x="6.90" y="367.10" font-size="10.3" fill="#222" stroke="#222" stroke-width="0.12">c</text>
<text x="13.20" y="366.00" font-size="8.9" fill="#222" stroke="#222" stroke-width="0.12">)</text>
<text x="110.8" y="11.0" font-size="8" font-style="italic" fill="#333">A</text>
<text x="111.6" y="168.7" font-size="8" font-style="italic" fill="#333">B</text>
<text x="110.8" y="185.0" font-size="8" font-style="italic" fill="#333">A</text>
<text x="111.2" y="343.2" font-size="8" font-style="italic" fill="#333">B</text>
<text x="110.8" y="364.5" font-size="8" font-style="italic" fill="#333">A</text>
<text x="111.6" y="523.5" font-size="8" font-style="italic" fill="#333">B</text>
<line x1="140.80" y1="10.00" x2="140.80" y2="143.50" stroke="#5a5a5a" stroke-width="1.25"/>
<line x1="140.20" y1="142.90" x2="319.50" y2="142.90" stroke="#5a5a5a" stroke-width="1.2"/>
<line x1="140.80" y1="142.90" x2="143.00" y2="142.90" stroke="#5a5a5a" stroke-width="0.8"/>
<text x="138.30" y="145.00" font-size="5.4" text-anchor="end" fill="#3a3a3a" stroke="#3a3a3a" stroke-width="0.08">0</text>
<line x1="140.80" y1="128.19" x2="143.00" y2="128.19" stroke="#5a5a5a" stroke-width="0.8"/>
<text x="138.30" y="130.29" font-size="5.4" text-anchor="end" fill="#3a3a3a" stroke="#3a3a3a" stroke-width="0.08">100</text>
<line x1="140.80" y1="113.48" x2="143.00" y2="113.48" stroke="#5a5a5a" stroke-width="0.8"/>
<text x="138.30" y="115.58" font-size="5.4" text-anchor="end" fill="#3a3a3a" stroke="#3a3a3a" stroke-width="0.08">200</text>
<line x1="140.80" y1="98.77" x2="143.00" y2="98.77" stroke="#5a5a5a" stroke-width="0.8"/>
<text x="138.30" y="100.87" font-size="5.4" text-anchor="end" fill="#3a3a3a" stroke="#3a3a3a" stroke-width="0.08">300</text>
<line x1="140.80" y1="84.06" x2="143.00" y2="84.06" stroke="#5a5a5a" stroke-width="0.8"/>
<text x="138.30" y="86.16" font-size="5.4" text-anchor="end" fill="#3a3a3a" stroke="#3a3a3a" stroke-width="0.08">400</text>
<line x1="140.80" y1="69.34" x2="143.00" y2="69.34" stroke="#5a5a5a" stroke-width="0.8"/>
<text x="138.30" y="71.44" font-size="5.4" text-anchor="end" fill="#3a3a3a" stroke="#3a3a3a" stroke-width="0.08">500</text>
<line x1="140.80" y1="54.63" x2="143.00" y2="54.63" stroke="#5a5a5a" stroke-width="0.8"/>
<text x="138.30" y="56.73" font-size="5.4" text-anchor="end" fill="#3a3a3a" stroke="#3a3a3a" stroke-width="0.08">600</text>
<line x1="140.80" y1="39.92" x2="143.00" y2="39.92" stroke="#5a5a5a" stroke-width="0.8"/>
<text x="138.30" y="42.02" font-size="5.4" text-anchor="end" fill="#3a3a3a" stroke="#3a3a3a" stroke-width="0.08">700</text>
<line x1="140.80" y1="25.21" x2="143.00" y2="25.21" stroke="#5a5a5a" stroke-width="0.8"/>
<text x="138.30" y="27.31" font-size="5.4" text-anchor="end" fill="#3a3a3a" stroke="#3a3a3a" stroke-width="0.08">800</text>
<line x1="140.80" y1="10.50" x2="143.00" y2="10.50" stroke="#5a5a5a" stroke-width="0.8"/>
<text x="138.30" y="12.60" font-size="5.4" text-anchor="end" fill="#3a3a3a" stroke="#3a3a3a" stroke-width="0.08">900</text>
<line x1="140.80" y1="142.90" x2="140.80" y2="140.30" stroke="#5a5a5a" stroke-width="0.8"/>
<text x="140.80" y="150.10" font-size="5.4" text-anchor="middle" fill="#3a3a3a" stroke="#3a3a3a" stroke-width="0.08">0</text>
<line x1="163.09" y1="142.90" x2="163.09" y2="140.30" stroke="#5a5a5a" stroke-width="0.8"/>
<text x="163.09" y="150.10" font-size="5.4" text-anchor="middle" fill="#3a3a3a" stroke="#3a3a3a" stroke-width="0.08">200</text>
<line x1="185.38" y1="142.90" x2="185.38" y2="140.30" stroke="#5a5a5a" stroke-width="0.8"/>
<text x="185.38" y="150.10" font-size="5.4" text-anchor="middle" fill="#3a3a3a" stroke="#3a3a3a" stroke-width="0.08">400</text>
<line x1="207.66" y1="142.90" x2="207.66" y2="140.30" stroke="#5a5a5a" stroke-width="0.8"/>
<text x="207.66" y="150.10" font-size="5.4" text-anchor="middle" fill="#3a3a3a" stroke="#3a3a3a" stroke-width="0.08">600</text>
<line x1="229.95" y1="142.90" x2="229.95" y2="140.30" stroke="#5a5a5a" stroke-width="0.8"/>
<text x="229.95" y="150.10" font-size="5.4" text-anchor="middle" fill="#3a3a3a" stroke="#3a3a3a" stroke-width="0.08">800</text>
<line x1="252.24" y1="142.90" x2="252.24" y2="140.30" stroke="#5a5a5a" stroke-width="0.8"/>
<text x="252.24" y="150.10" font-size="5.4" text-anchor="middle" fill="#3a3a3a" stroke="#3a3a3a" stroke-width="0.08">1000</text>
<line x1="274.53" y1="142.90" x2="274.53" y2="140.30" stroke="#5a5a5a" stroke-width="0.8"/>
<text x="274.53" y="150.10" font-size="5.4" text-anchor="middle" fill="#3a3a3a" stroke="#3a3a3a" stroke-width="0.08">1200</text>
<line x1="296.81" y1="142.90" x2="296.81" y2="140.30" stroke="#5a5a5a" stroke-width="0.8"/>
<text x="296.81" y="150.10" font-size="5.4" text-anchor="middle" fill="#3a3a3a" stroke="#3a3a3a" stroke-width="0.08">1400</text>
<line x1="319.10" y1="142.90" x2="319.10" y2="140.30" stroke="#5a5a5a" stroke-width="0.8"/>
<text x="319.10" y="150.10" font-size="5.4" text-anchor="middle" fill="#3a3a3a" stroke="#3a3a3a" stroke-width="0.08">1600</text>
<text transform="translate(123.9,113.6) rotate(-90)" x="0" y="0" font-size="9.2" fill="#1a1a1a" stroke="#1a1a1a" stroke-width="0.04" textLength="43.50" lengthAdjust="spacingAndGlyphs">Mises stress</text>
<text transform="translate(123.9,113.6) rotate(-90)" x="47.00" y="-1.6" font-size="7.3" fill="#111" stroke="#111" stroke-width="0.12" textLength="17.0" lengthAdjust="spacingAndGlyphs">(MPa)</text>
<text x="202.7" y="161.1" font-size="8.1" fill="#1a1a1a" stroke="#1a1a1a" stroke-width="0.1" textLength="26" lengthAdjust="spacingAndGlyphs">Lengths</text>
<text x="230.70" y="161.00" font-size="7.6" fill="#1a1a1a" stroke="#1a1a1a" stroke-width="0.1" textLength="14.2" lengthAdjust="spacingAndGlyphs">(mm)</text>
<polyline points="140.80,108.50 163.40,98.80 166.50,101.70 168.60,96.00 170.20,82.90 171.10,78.00 171.50,30.00 171.60,119.40 172.60,134.00 173.80,118.50 176.00,115.50 178.40,114.50 183.90,114.50 190.00,115.20 194.60,117.00 197.00,114.30 198.20,107.30 200.00,110.60 201.90,116.10 204.60,117.60 206.10,112.40 206.80,105.50 208.30,108.40 211.00,101.50 214.70,97.40 220.20,98.20 229.30,98.20 240.30,107.90 241.50,108.00 244.00,123.50 248.20,110.70 249.50,111.60 250.60,110.10 251.30,136.30 253.20,139.00 255.00,143.00 268.40,114.30 271.50,118.00 272.90,115.60 274.80,108.50 277.50,108.80 279.30,116.20 285.70,112.50 287.20,110.70 288.50,107.00 289.10,105.40 290.20,84.90 305.60,81.70" fill="none" stroke="#8C3CF5" stroke-width="1.05" stroke-linejoin="round" stroke-linecap="round"/>
<line x1="142.40" y1="185.90" x2="142.40" y2="318.10" stroke="#5a5a5a" stroke-width="1.25"/>
<line x1="141.80" y1="317.50" x2="318.10" y2="317.50" stroke="#5a5a5a" stroke-width="1.2"/>
<line x1="142.40" y1="317.50" x2="144.60" y2="317.50" stroke="#5a5a5a" stroke-width="0.8"/>
<text x="139.90" y="319.60" font-size="5.4" text-anchor="end" fill="#3a3a3a" stroke="#3a3a3a" stroke-width="0.08">0</text>
<line x1="142.40" y1="302.93" x2="144.60" y2="302.93" stroke="#5a5a5a" stroke-width="0.8"/>
<text x="139.90" y="305.03" font-size="5.4" text-anchor="end" fill="#3a3a3a" stroke="#3a3a3a" stroke-width="0.08">100</text>
<line x1="142.40" y1="288.37" x2="144.60" y2="288.37" stroke="#5a5a5a" stroke-width="0.8"/>
<text x="139.90" y="290.47" font-size="5.4" text-anchor="end" fill="#3a3a3a" stroke="#3a3a3a" stroke-width="0.08">200</text>
<line x1="142.40" y1="273.80" x2="144.60" y2="273.80" stroke="#5a5a5a" stroke-width="0.8"/>
<text x="139.90" y="275.90" font-size="5.4" text-anchor="end" fill="#3a3a3a" stroke="#3a3a3a" stroke-width="0.08">300</text>
<line x1="142.40" y1="259.23" x2="144.60" y2="259.23" stroke="#5a5a5a" stroke-width="0.8"/>
<text x="139.90" y="261.33" font-size="5.4" text-anchor="end" fill="#3a3a3a" stroke="#3a3a3a" stroke-width="0.08">400</text>
<line x1="142.40" y1="244.67" x2="144.60" y2="244.67" stroke="#5a5a5a" stroke-width="0.8"/>
<text x="139.90" y="246.77" font-size="5.4" text-anchor="end" fill="#3a3a3a" stroke="#3a3a3a" stroke-width="0.08">500</text>
<line x1="142.40" y1="230.10" x2="144.60" y2="230.10" stroke="#5a5a5a" stroke-width="0.8"/>
<text x="139.90" y="232.20" font-size="5.4" text-anchor="end" fill="#3a3a3a" stroke="#3a3a3a" stroke-width="0.08">600</text>
<line x1="142.40" y1="215.53" x2="144.60" y2="215.53" stroke="#5a5a5a" stroke-width="0.8"/>
<text x="139.90" y="217.63" font-size="5.4" text-anchor="end" fill="#3a3a3a" stroke="#3a3a3a" stroke-width="0.08">700</text>
<line x1="142.40" y1="200.97" x2="144.60" y2="200.97" stroke="#5a5a5a" stroke-width="0.8"/>
<text x="139.90" y="203.07" font-size="5.4" text-anchor="end" fill="#3a3a3a" stroke="#3a3a3a" stroke-width="0.08">800</text>
<line x1="142.40" y1="186.40" x2="144.60" y2="186.40" stroke="#5a5a5a" stroke-width="0.8"/>
<text x="139.90" y="188.50" font-size="5.4" text-anchor="end" fill="#3a3a3a" stroke="#3a3a3a" stroke-width="0.08">900</text>
<line x1="142.40" y1="317.50" x2="142.40" y2="314.90" stroke="#5a5a5a" stroke-width="0.8"/>
<text x="142.40" y="324.70" font-size="5.4" text-anchor="middle" fill="#3a3a3a" stroke="#3a3a3a" stroke-width="0.08">0</text>
<line x1="164.31" y1="317.50" x2="164.31" y2="314.90" stroke="#5a5a5a" stroke-width="0.8"/>
<text x="164.31" y="324.70" font-size="5.4" text-anchor="middle" fill="#3a3a3a" stroke="#3a3a3a" stroke-width="0.08">200</text>
<line x1="186.22" y1="317.50" x2="186.22" y2="314.90" stroke="#5a5a5a" stroke-width="0.8"/>
<text x="186.22" y="324.70" font-size="5.4" text-anchor="middle" fill="#3a3a3a" stroke="#3a3a3a" stroke-width="0.08">400</text>
<line x1="208.14" y1="317.50" x2="208.14" y2="314.90" stroke="#5a5a5a" stroke-width="0.8"/>
<text x="208.14" y="324.70" font-size="5.4" text-anchor="middle" fill="#3a3a3a" stroke="#3a3a3a" stroke-width="0.08">600</text>
<line x1="230.05" y1="317.50" x2="230.05" y2="314.90" stroke="#5a5a5a" stroke-width="0.8"/>
<text x="230.05" y="324.70" font-size="5.4" text-anchor="middle" fill="#3a3a3a" stroke="#3a3a3a" stroke-width="0.08">800</text>
<line x1="251.96" y1="317.50" x2="251.96" y2="314.90" stroke="#5a5a5a" stroke-width="0.8"/>
<text x="251.96" y="324.70" font-size="5.4" text-anchor="middle" fill="#3a3a3a" stroke="#3a3a3a" stroke-width="0.08">1000</text>
<line x1="273.88" y1="317.50" x2="273.88" y2="314.90" stroke="#5a5a5a" stroke-width="0.8"/>
<text x="273.88" y="324.70" font-size="5.4" text-anchor="middle" fill="#3a3a3a" stroke="#3a3a3a" stroke-width="0.08">1200</text>
<line x1="295.79" y1="317.50" x2="295.79" y2="314.90" stroke="#5a5a5a" stroke-width="0.8"/>
<text x="295.79" y="324.70" font-size="5.4" text-anchor="middle" fill="#3a3a3a" stroke="#3a3a3a" stroke-width="0.08">1400</text>
<line x1="317.70" y1="317.50" x2="317.70" y2="314.90" stroke="#5a5a5a" stroke-width="0.8"/>
<text x="317.70" y="324.70" font-size="5.4" text-anchor="middle" fill="#3a3a3a" stroke="#3a3a3a" stroke-width="0.08">1600</text>
<text transform="translate(123.9,287.7) rotate(-90)" x="0" y="0" font-size="9.2" fill="#1a1a1a" stroke="#1a1a1a" stroke-width="0.04" textLength="42.10" lengthAdjust="spacingAndGlyphs">Mises stress</text>
<text transform="translate(123.9,287.7) rotate(-90)" x="45.60" y="-1.6" font-size="7.3" fill="#111" stroke="#111" stroke-width="0.12" textLength="17.0" lengthAdjust="spacingAndGlyphs">(MPa)</text>
<text x="202.3" y="335.9" font-size="8.1" fill="#1a1a1a" stroke="#1a1a1a" stroke-width="0.1" textLength="26" lengthAdjust="spacingAndGlyphs">Lengths</text>
<text x="230.30" y="335.80" font-size="7.6" fill="#1a1a1a" stroke="#1a1a1a" stroke-width="0.1" textLength="14.2" lengthAdjust="spacingAndGlyphs">(mm)</text>
<polyline points="142.30,292.80 170.10,281.60 171.30,283.80 173.20,290.20 175.50,292.00 182.00,291.50 194.80,291.50 196.60,290.20 197.50,285.60 198.80,282.30 199.30,292.60 200.60,280.10 201.70,287.40 203.00,279.20 203.90,280.10 204.80,260.00 205.60,240.00 207.40,207.40 209.30,197.70 211.10,198.70 215.10,202.00 220.60,202.70 228.80,202.30 232.50,201.60 234.30,203.80 236.20,216.60 237.60,238.00 239.80,259.80 242.00,271.80 244.80,279.50 247.00,271.80 248.50,255.50 250.70,222.70 252.30,204.20 254.40,196.50 257.30,195.50 260.50,197.60 262.70,216.20 264.50,244.50 266.00,266.40 267.50,269.00 269.30,275.10 274.70,281.60 279.50,278.90 283.70,275.30 284.50,270.90 286.00,267.80 287.80,254.40 290.20,247.70 293.30,244.00 295.70,243.40 297.60,247.10 298.80,258.00 300.00,266.60 300.90,269.00 301.80,267.20 302.80,265.40" fill="none" stroke="#8C3CF5" stroke-width="1.05" stroke-linejoin="round" stroke-linecap="round"/>
<line x1="141.60" y1="366.20" x2="141.60" y2="499.00" stroke="#5a5a5a" stroke-width="1.25"/>
<line x1="141.00" y1="498.40" x2="318.90" y2="498.40" stroke="#5a5a5a" stroke-width="1.2"/>
<line x1="141.60" y1="498.40" x2="143.80" y2="498.40" stroke="#5a5a5a" stroke-width="0.8"/>
<text x="139.10" y="500.50" font-size="5.4" text-anchor="end" fill="#3a3a3a" stroke="#3a3a3a" stroke-width="0.08">0</text>
<line x1="141.60" y1="483.77" x2="143.80" y2="483.77" stroke="#5a5a5a" stroke-width="0.8"/>
<text x="139.10" y="485.87" font-size="5.4" text-anchor="end" fill="#3a3a3a" stroke="#3a3a3a" stroke-width="0.08">100</text>
<line x1="141.60" y1="469.13" x2="143.80" y2="469.13" stroke="#5a5a5a" stroke-width="0.8"/>
<text x="139.10" y="471.23" font-size="5.4" text-anchor="end" fill="#3a3a3a" stroke="#3a3a3a" stroke-width="0.08">200</text>
<line x1="141.60" y1="454.50" x2="143.80" y2="454.50" stroke="#5a5a5a" stroke-width="0.8"/>
<text x="139.10" y="456.60" font-size="5.4" text-anchor="end" fill="#3a3a3a" stroke="#3a3a3a" stroke-width="0.08">300</text>
<line x1="141.60" y1="439.87" x2="143.80" y2="439.87" stroke="#5a5a5a" stroke-width="0.8"/>
<text x="139.10" y="441.97" font-size="5.4" text-anchor="end" fill="#3a3a3a" stroke="#3a3a3a" stroke-width="0.08">400</text>
<line x1="141.60" y1="425.23" x2="143.80" y2="425.23" stroke="#5a5a5a" stroke-width="0.8"/>
<text x="139.10" y="427.33" font-size="5.4" text-anchor="end" fill="#3a3a3a" stroke="#3a3a3a" stroke-width="0.08">500</text>
<line x1="141.60" y1="410.60" x2="143.80" y2="410.60" stroke="#5a5a5a" stroke-width="0.8"/>
<text x="139.10" y="412.70" font-size="5.4" text-anchor="end" fill="#3a3a3a" stroke="#3a3a3a" stroke-width="0.08">600</text>
<line x1="141.60" y1="395.97" x2="143.80" y2="395.97" stroke="#5a5a5a" stroke-width="0.8"/>
<text x="139.10" y="398.07" font-size="5.4" text-anchor="end" fill="#3a3a3a" stroke="#3a3a3a" stroke-width="0.08">700</text>
<line x1="141.60" y1="381.33" x2="143.80" y2="381.33" stroke="#5a5a5a" stroke-width="0.8"/>
<text x="139.10" y="383.43" font-size="5.4" text-anchor="end" fill="#3a3a3a" stroke="#3a3a3a" stroke-width="0.08">800</text>
<line x1="141.60" y1="366.70" x2="143.80" y2="366.70" stroke="#5a5a5a" stroke-width="0.8"/>
<text x="139.10" y="368.80" font-size="5.4" text-anchor="end" fill="#3a3a3a" stroke="#3a3a3a" stroke-width="0.08">900</text>
<line x1="141.60" y1="498.40" x2="141.60" y2="495.80" stroke="#5a5a5a" stroke-width="0.8"/>
<text x="141.60" y="505.60" font-size="5.4" text-anchor="middle" fill="#3a3a3a" stroke="#3a3a3a" stroke-width="0.08">0</text>
<line x1="163.71" y1="498.40" x2="163.71" y2="495.80" stroke="#5a5a5a" stroke-width="0.8"/>
<text x="163.71" y="505.60" font-size="5.4" text-anchor="middle" fill="#3a3a3a" stroke="#3a3a3a" stroke-width="0.08">200</text>
<line x1="185.82" y1="498.40" x2="185.82" y2="495.80" stroke="#5a5a5a" stroke-width="0.8"/>
<text x="185.82" y="505.60" font-size="5.4" text-anchor="middle" fill="#3a3a3a" stroke="#3a3a3a" stroke-width="0.08">400</text>
<line x1="207.94" y1="498.40" x2="207.94" y2="495.80" stroke="#5a5a5a" stroke-width="0.8"/>
<text x="207.94" y="505.60" font-size="5.4" text-anchor="middle" fill="#3a3a3a" stroke="#3a3a3a" stroke-width="0.08">600</text>
<line x1="230.05" y1="498.40" x2="230.05" y2="495.80" stroke="#5a5a5a" stroke-width="0.8"/>
<text x="230.05" y="505.60" font-size="5.4" text-anchor="middle" fill="#3a3a3a" stroke="#3a3a3a" stroke-width="0.08">800</text>
<line x1="252.16" y1="498.40" x2="252.16" y2="495.80" stroke="#5a5a5a" stroke-width="0.8"/>
<text x="252.16" y="505.60" font-size="5.4" text-anchor="middle" fill="#3a3a3a" stroke="#3a3a3a" stroke-width="0.08">1000</text>
<line x1="274.27" y1="498.40" x2="274.27" y2="495.80" stroke="#5a5a5a" stroke-width="0.8"/>
<text x="274.27" y="505.60" font-size="5.4" text-anchor="middle" fill="#3a3a3a" stroke="#3a3a3a" stroke-width="0.08">1200</text>
<line x1="296.39" y1="498.40" x2="296.39" y2="495.80" stroke="#5a5a5a" stroke-width="0.8"/>
<text x="296.39" y="505.60" font-size="5.4" text-anchor="middle" fill="#3a3a3a" stroke="#3a3a3a" stroke-width="0.08">1400</text>
<line x1="318.50" y1="498.40" x2="318.50" y2="495.80" stroke="#5a5a5a" stroke-width="0.8"/>
<text x="318.50" y="505.60" font-size="5.4" text-anchor="middle" fill="#3a3a3a" stroke="#3a3a3a" stroke-width="0.08">1600</text>
<text transform="translate(123.9,468.9) rotate(-90)" x="0" y="0" font-size="9.2" fill="#1a1a1a" stroke="#1a1a1a" stroke-width="0.04" textLength="42.60" lengthAdjust="spacingAndGlyphs">Mises stress</text>
<text transform="translate(123.9,468.9) rotate(-90)" x="46.10" y="-1.6" font-size="7.3" fill="#111" stroke="#111" stroke-width="0.12" textLength="17.0" lengthAdjust="spacingAndGlyphs">(MPa)</text>
<text x="202.3" y="516.3" font-size="8.1" fill="#1a1a1a" stroke="#1a1a1a" stroke-width="0.1" textLength="26" lengthAdjust="spacingAndGlyphs">Lengths</text>
<text x="230.30" y="516.80" font-size="7.6" fill="#1a1a1a" stroke="#1a1a1a" stroke-width="0.1" textLength="14.2" lengthAdjust="spacingAndGlyphs">(mm)</text>
<polyline points="141.60,463.90 142.00,468.50 143.50,474.90 145.00,467.60 146.20,459.30 148.60,456.20 152.60,457.10 161.80,457.50 168.20,454.40 170.60,456.20 171.80,461.20 172.80,462.40 174.20,459.30 174.60,442.00 174.70,420.20 175.50,418.80 176.10,428.30 177.00,417.30 178.00,429.70 179.00,434.00 179.50,447.20 180.50,419.50 181.60,416.60 183.10,421.00 184.60,413.00 186.30,409.00 187.20,412.20 187.80,422.40 188.60,410.00 189.70,407.10 190.70,412.20 191.60,419.50 192.60,413.70 194.00,406.40 195.50,399.10 196.50,388.90 197.40,374.40 197.70,420.00 198.20,469.40 201.00,472.10 203.70,476.70 206.10,478.50 207.40,465.70 208.70,452.90 210.50,445.60 212.90,436.50 215.60,428.20 218.40,426.40 225.70,427.30 233.90,426.40 236.60,428.20 239.00,438.30 242.10,456.60 244.90,469.40 247.20,474.90 249.00,471.20 251.40,452.90 253.20,436.50 255.10,428.20 257.80,424.60 260.50,424.60 263.30,428.20 265.10,438.30 267.00,456.60 268.40,471.20 270.60,476.30 273.40,473.00 275.20,467.90 276.50,470.30 277.90,474.90 280.70,473.40 285.20,467.60 288.50,463.00" fill="none" stroke="#8C3CF5" stroke-width="1.05" stroke-linejoin="round" stroke-linecap="round"/>
<rect x="90.6" y="533.3" width="19.6" height="12.2" fill="none" stroke="#F01818" stroke-width="1.1"/>
<line x1="110.2" y1="539.4" x2="121.2" y2="539.4" stroke="#F01818" stroke-width="1.1"/>
<text x="121.4" y="542.5" font-size="10.4" fill="#111" stroke="#111" stroke-width="0.15" textLength="170" lengthAdjust="spacingAndGlyphs">The most stressed part of downhole safety valve</text>
<circle cx="31.8" cy="5.7" r="0.7" fill="#C8D820"/>
<line x1="21.5" y1="38.6" x2="29.5" y2="38.6" stroke="#E0E060" stroke-width="0.5" stroke-dasharray="1,0.8"/>
<circle cx="31.6" cy="38.6" r="0.5" fill="#C8D820"/>
<line x1="31.5" y1="40" x2="31.5" y2="60" stroke="#5AB0F0" stroke-width="0.4" opacity="0.7"/>
</svg></body></html>
